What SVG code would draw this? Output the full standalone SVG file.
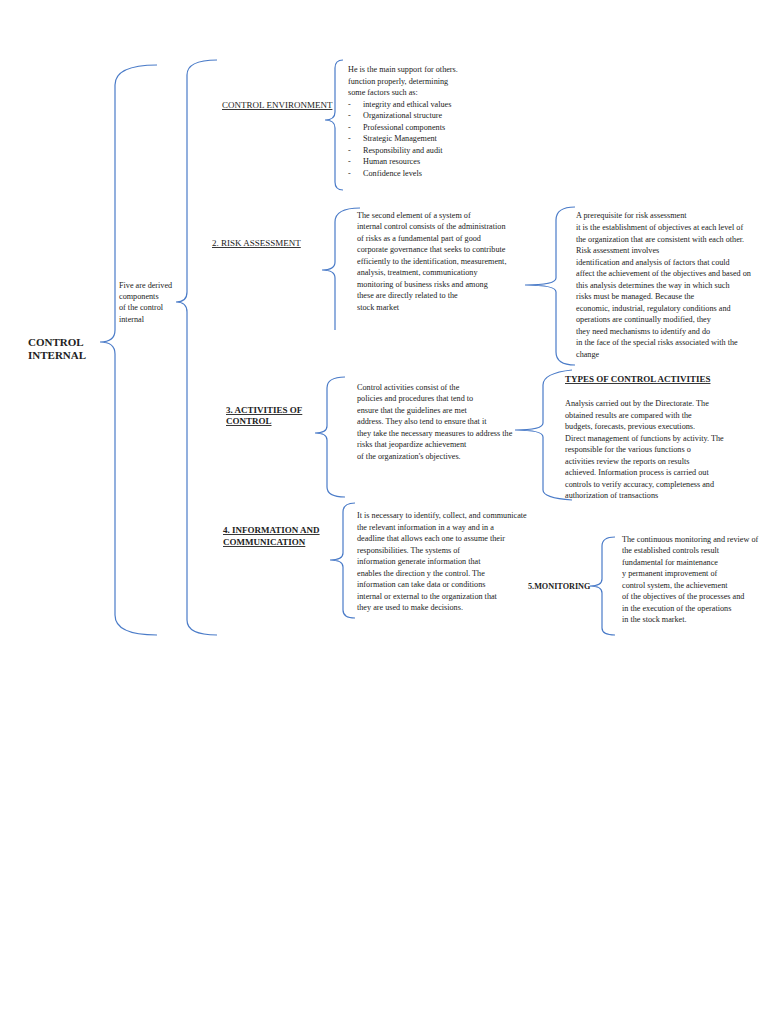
<svg xmlns="http://www.w3.org/2000/svg" width="768" height="1024" viewBox="0 0 768 1024">
<style>
.b{fill:none;stroke:#4a7bc8;stroke-width:1.2}
text{font-family:"Liberation Serif",serif;font-size:8.2px;fill:#222}
.h{font-size:9px;text-decoration:underline}
.t{font-size:11px;font-weight:bold}
</style>
<rect width="768" height="1024" fill="#fff"/>
<g id="connectors">
<path class="b" d="M157 65 Q115 65 115 85 L115 330 Q115 342 100 342 Q115 342 115 354 L115 615 Q115 635 157 635"/>
<path class="b" d="M217 60 Q187 60 187 75 L187 292 Q187 302 176 302 Q187 302 187 312 L187 620 Q187 635 217 635"/>
<path class="b" d="M343 60 Q335 60 335 68 L335 112 Q335 120 325 120 Q335 120 335 128 L335 182 Q335 190 343 190"/>
<path class="b" d="M360 208 Q335 208 335 222 L335 262 Q335 270 322 270 Q335 270 335 278 L335 330"/>
<path class="b" d="M575 207 Q556 207 556 220 L556 278 Q556 285 525 285 Q556 285 556 292 L556 352 Q556 365 575 365"/>
<path class="b" d="M345 377 Q327 377 327 388 L327 426 Q327 433 315 433 Q327 433 327 440 L327 487 Q327 497 345 497"/>
<path class="b" d="M572 370 Q543 373 543 385 L543 423 Q543 430 515 430 Q543 430 543 437 L543 490 Q543 498 572 500"/>
<path class="b" d="M355 503 Q343 503 343 512 L343 553 Q343 560 330 560 Q343 560 343 567 L343 610 Q343 618 355 618"/>
<path class="b" d="M615 537 Q602 537 602 546 L602 579 Q602 586 590 586 Q602 586 602 593 L602 628 Q602 635 615 635"/>
</g>
<g id="root"><text class="t" x="28" y="346">CONTROL</text><text class="t" x="28" y="359">INTERNAL</text></g>
<g id="derived"><text x="119" y="288">Five are derived</text><text x="119" y="299">components</text><text x="119" y="310">of the control</text><text x="119" y="322">internal</text></g>
<g id="env"><text class="h" x="222" y="108">CONTROL ENVIRONMENT</text>
<text x="348" y="72">He is the main support for others.</text>
<text x="348" y="84">function properly, determining</text>
<text x="348" y="95">some factors such as:</text>
<text x="348" y="107">-<tspan x="363">integrity and ethical values</tspan></text>
<text x="348" y="118">-<tspan x="363">Organizational structure</tspan></text>
<text x="348" y="130">-<tspan x="363">Professional components</tspan></text>
<text x="348" y="141">-<tspan x="363">Strategic Management</tspan></text>
<text x="348" y="153">-<tspan x="363">Responsibility and audit</tspan></text>
<text x="348" y="164">-<tspan x="363">Human resources</tspan></text>
<text x="348" y="176">-<tspan x="363">Confidence levels</tspan></text></g>
<g id="risk"><text class="h" x="212" y="246">2. RISK ASSESSMENT</text>
<text x="357" y="218">The second element of a system of</text>
<text x="357" y="229">internal control consists of the administration</text>
<text x="357" y="241">of risks as a fundamental part of good</text>
<text x="357" y="252">corporate governance that seeks to contribute</text>
<text x="357" y="264">efficiently to the identification, measurement,</text>
<text x="357" y="275">analysis, treatment, communicationy</text>
<text x="357" y="287">monitoring of business risks and among</text>
<text x="357" y="298">these are directly related to the</text>
<text x="357" y="310">stock market</text></g>
<g id="prereq">
<text x="576" y="218">A prerequisite for risk assessment</text>
<text x="576" y="230">it is the establishment of objectives at each level of</text>
<text x="576" y="242">the organization that are consistent with each other.</text>
<text x="576" y="253">Risk assessment involves</text>
<text x="576" y="265">identification and analysis of factors that could</text>
<text x="576" y="276">affect the achievement of the objectives and based on</text>
<text x="576" y="288">this analysis determines the way in which such</text>
<text x="576" y="299">risks must be managed. Because the</text>
<text x="576" y="311">economic, industrial, regulatory conditions and</text>
<text x="576" y="322">operations are continually modified, they</text>
<text x="576" y="334">they need mechanisms to identify and do</text>
<text x="576" y="345">in the face of the special risks associated with the</text>
<text x="576" y="357">change</text></g>
<g id="activities"><text class="h" x="226" y="413" font-weight="bold">3. ACTIVITIES OF</text><text class="h" x="226" y="424" font-weight="bold">CONTROL</text>
<text x="357" y="390">Control activities consist of the</text>
<text x="357" y="401">policies and procedures that tend to</text>
<text x="357" y="413">ensure that the guidelines are met</text>
<text x="357" y="424">address. They also tend to ensure that it</text>
<text x="357" y="436">they take the necessary measures to address the</text>
<text x="357" y="447">risks that jeopardize achievement</text>
<text x="357" y="459">of the organization's objectives.</text></g>
<g id="types"><text class="h" x="565" y="382" font-weight="bold">TYPES OF CONTROL ACTIVITIES</text>
<text x="565" y="406">Analysis carried out by the Directorate. The</text>
<text x="565" y="418">obtained results are compared with the</text>
<text x="565" y="429">budgets, forecasts, previous executions.</text>
<text x="565" y="441">Direct management of functions by activity. The</text>
<text x="565" y="452">responsible for the various functions o</text>
<text x="565" y="464">activities review the reports on results</text>
<text x="565" y="475">achieved. Information process is carried out</text>
<text x="565" y="487">controls to verify accuracy, completeness and</text>
<text x="565" y="498">authorization of transactions</text></g>
<g id="info"><text class="h" x="223" y="533" font-weight="bold">4. INFORMATION AND</text><text class="h" x="223" y="545" font-weight="bold">COMMUNICATION</text>
<text x="357" y="518" font-size="7px">It is necessary to identify, collect, and communicate</text>
<text x="357" y="530">the relevant information in a way and in a</text>
<text x="357" y="541">deadline that allows each one to assume their</text>
<text x="357" y="553">responsibilities. The systems of</text>
<text x="357" y="564">information generate information that</text>
<text x="357" y="576">enables the direction y the control. The</text>
<text x="357" y="587">information can take data or conditions</text>
<text x="357" y="599">internal or external to the organization that</text>
<text x="357" y="610">they are used to make decisions.</text></g>
<g id="monitoring"><text x="528" y="589" font-weight="bold" font-size="8.5px">5.MONITORING</text>
<text x="622" y="542">The continuous monitoring and review of</text>
<text x="622" y="553">the established controls result</text>
<text x="622" y="565">fundamental for maintenance</text>
<text x="622" y="576">y permanent improvement of</text>
<text x="622" y="588">control system, the achievement</text>
<text x="622" y="599">of the objectives of the processes and</text>
<text x="622" y="611">in the execution of the operations</text>
<text x="622" y="622">in the stock market.</text></g>
</svg>
